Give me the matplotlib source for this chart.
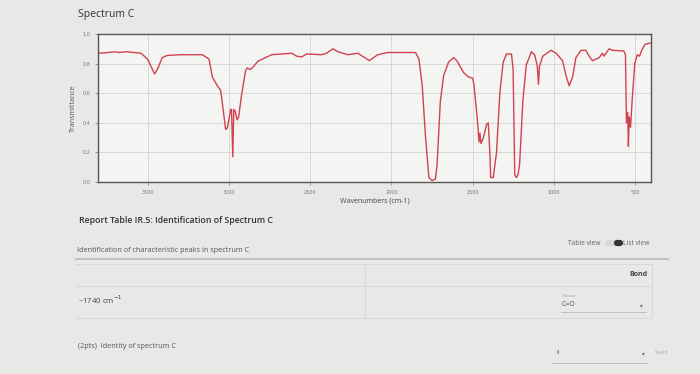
import matplotlib.pyplot as plt

# spectrum (wavenumber cm-1, transmittance)
wavenumbers = [3800, 3740, 3700, 3680, 3630, 3540, 3500, 3470, 3457, 3440, 3410, 3380,
               3300, 3163, 3122, 3102, 3071, 3051, 3040, 3020, 3010, 2995, 2990, 2984,
               2976, 2970, 2962, 2950, 2940, 2923, 2898, 2888, 2868, 2848, 2823, 2776,
               2736, 2614, 2583, 2553, 2522, 2431, 2400, 2360, 2329, 2268, 2207, 2136,
               2085, 2024, 1923, 1852, 1831, 1811, 1791, 1770, 1750, 1730, 1720, 1700,
               1679, 1649, 1618, 1598, 1557, 1527, 1500, 1492, 1476, 1466, 1462, 1456,
               1450, 1436, 1415, 1405, 1395, 1390, 1374, 1354, 1333, 1313, 1293, 1262,
               1252, 1246, 1242, 1232, 1222, 1212, 1192, 1171, 1140, 1120, 1104, 1096,
               1090, 1070, 1019, 988, 948, 927, 907, 886, 866, 835, 805, 784, 764, 743,
               723, 703, 693, 662, 642, 571, 561, 555, 547, 543, 538, 530, 520, 504,
               488, 474, 461, 441, 404]
transmittance = [0.87, 0.875, 0.88, 0.875, 0.88, 0.87, 0.83, 0.76, 0.73, 0.76, 0.84, 0.855,
                 0.86, 0.86, 0.83, 0.71, 0.65, 0.62, 0.53, 0.355, 0.365, 0.45, 0.49, 0.49,
                 0.17, 0.49, 0.48, 0.42, 0.44, 0.58, 0.75, 0.77, 0.76, 0.78, 0.815, 0.84,
                 0.86, 0.87, 0.85, 0.845, 0.865, 0.86, 0.87, 0.90, 0.88, 0.86, 0.87, 0.82,
                 0.86, 0.875, 0.875, 0.875, 0.83, 0.65, 0.31, 0.03, 0.01, 0.02, 0.11, 0.54,
                 0.72, 0.81, 0.84, 0.82, 0.74, 0.71, 0.70, 0.65, 0.47, 0.34, 0.27, 0.33,
                 0.26, 0.295, 0.39, 0.40, 0.20, 0.03, 0.03, 0.20, 0.61, 0.81, 0.865, 0.865,
                 0.76, 0.32, 0.05, 0.03, 0.05, 0.12, 0.55, 0.79, 0.88, 0.86, 0.79, 0.66,
                 0.78, 0.85, 0.89, 0.87, 0.82, 0.72, 0.65, 0.71, 0.84, 0.89, 0.89, 0.85,
                 0.82, 0.83, 0.84, 0.87, 0.85, 0.90, 0.89, 0.885, 0.86, 0.40, 0.47, 0.24,
                 0.44, 0.37, 0.55, 0.80, 0.86, 0.85, 0.89, 0.93, 0.94]
x_ticks = [3500, 3000, 2500, 2000, 1500, 1000, 500]
y_ticks = [0.0, 0.2, 0.4, 0.6, 0.8, 1.0]

W, H = 700, 374
fig = plt.figure(figsize=(7, 3.74), dpi=100, facecolor="#e8e8e6")

# page layer in pixel coordinates
page = fig.add_axes([0, 0, 1, 1], zorder=0)
page.set_xlim(0, W)
page.set_ylim(H, 0)
page.axis("off")

font = "Open Sans"
page.text(78, 14, "Spectrum C", fontsize=7.5, color="#333333", va="center", family=font)
page.text(79, 220, "Report Table IR.5: Identification of Spectrum C", fontsize=6.3,
          color="#333333", va="center", family=font, fontweight="semibold")
page.text(77, 250, "Identification of characteristic peaks in spectrum C", fontsize=5.2,
          color="#555555", va="center", family=font)
page.text(568, 243, "Table view", fontsize=4.8, color="#666666", va="center", family=font)
page.text(623, 243, "List view", fontsize=4.8, color="#666666", va="center", family=font)
page.plot([608, 616], [243, 243], color="#d8d8d8", lw=4.5, solid_capstyle="round")
page.plot([617, 620], [243, 243], color="#333333", lw=4.5, solid_capstyle="round")

# table
page.plot([76, 668], [259, 259], color="#bbbbbb", lw=1.2)
page.plot([76, 652, 652, 76], [264, 264, 318, 318], color="#d6d6d6", lw=0.6)
page.plot([76, 652], [286, 286], color="#d6d6d6", lw=0.6)
page.plot([365, 365], [264, 318], color="#d6d6d6", lw=0.6)
page.text(647, 275, "Bond", fontsize=5, color="#444444", va="center", ha="right",
          family=font, fontweight="bold")
page.text(78, 300, "~1740 cm$^{-1}$", fontsize=5.6, color="#444444", va="center", family=font)
page.text(562, 296, "Choose", fontsize=3, color="#999999", va="center", family=font)
page.text(562, 305, "C=O", fontsize=5, color="#555555", va="center", family=font)
page.text(641, 306, "\u25be", fontsize=4, color="#666666", va="center", ha="center")
page.plot([561, 646], [312, 312], color="#bbbbbb", lw=0.6)

page.text(78, 346, "(2pts)  Identity of spectrum C", fontsize=5.2, color="#555555",
          va="center", family=font)
page.text(556, 353, "II", fontsize=4.5, color="#666666", va="center", family=font)
page.text(643, 354, "\u25be", fontsize=4, color="#666666", va="center", ha="center")
page.text(655, 353, "Saved", fontsize=3.5, color="#aaaaaa", va="center", family=font)
page.plot([552, 648], [363, 363], color="#bbbbbb", lw=0.6)

# spectrum plot
ax = fig.add_axes([98 / W, 1 - 182 / H, 553 / W, 148 / H], zorder=1)
ax.set_facecolor("#f4f4f3")
ax.plot(wavenumbers, transmittance, color="#d0424f", lw=1.0)
ax.set_xlim(3805, 404)
ax.set_ylim(0, 1)
ax.set_xticks(x_ticks)
ax.set_yticks(y_ticks)
ax.set_yticklabels([f"{v:.1f}" for v in y_ticks])
ax.grid(True, color="#d4d4d4", lw=0.6)
ax.tick_params(labelsize=3.5, colors="#777777", length=2, width=0.5)
for s in ax.spines.values():
    s.set_color("#555555")
    s.set_linewidth(1.0)
ax.set_xlabel("Wavenumbers (cm-1)", fontsize=5, color="#444444", labelpad=2, family=font)
ax.set_ylabel("Transmittance", fontsize=5, color="#555555", labelpad=4, family=font)

fig.savefig("out.png", dpi=100, facecolor=fig.get_facecolor())
